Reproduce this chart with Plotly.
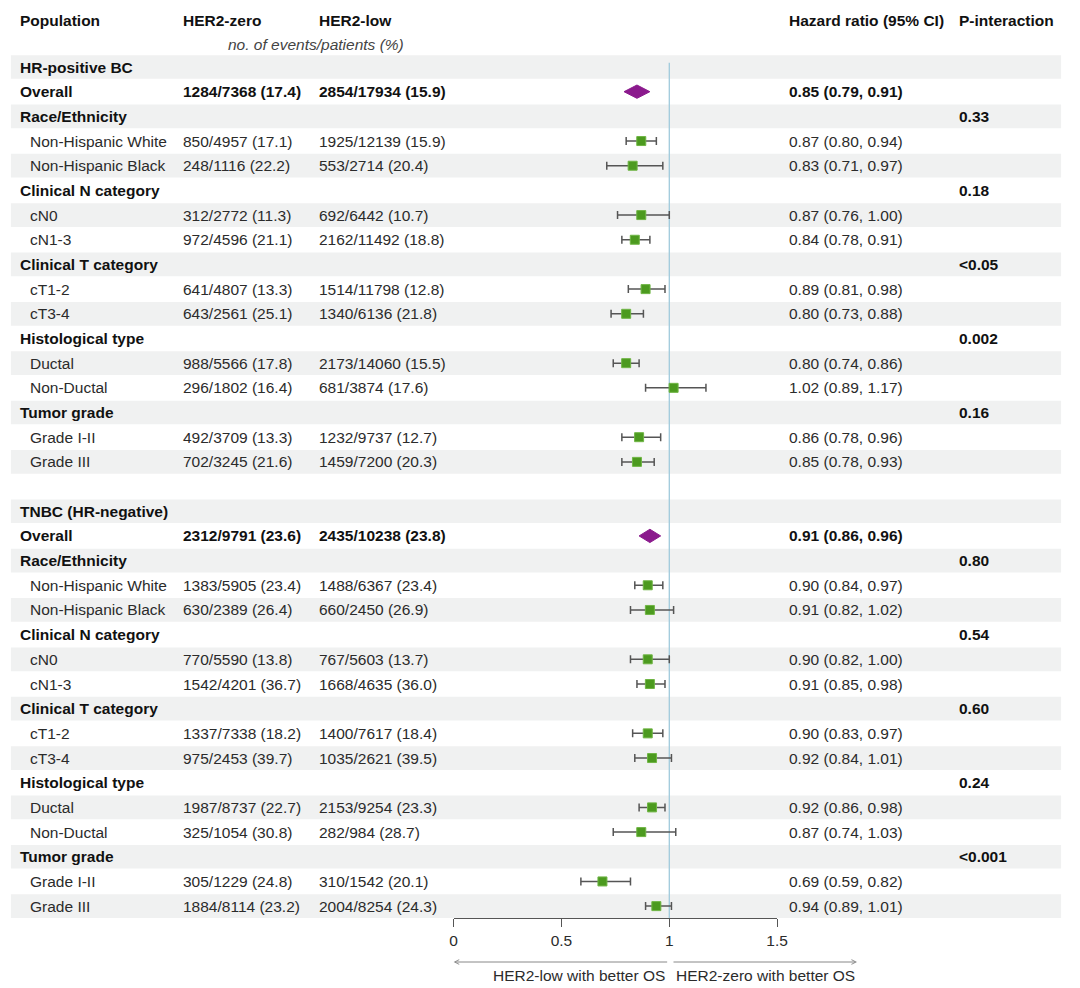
import plotly.graph_objects as go

# ---------------- data ----------------
labels = ["HR-positive BC", "Overall", "Race/Ethnicity", "Non-Hispanic White", "Non-Hispanic Black",
          "Clinical N category", "cN0", "cN1-3", "Clinical T category", "cT1-2", "cT3-4",
          "Histological type", "Ductal", "Non-Ductal", "Tumor grade", "Grade I-II", "Grade III",
          "",
          "TNBC (HR-negative)", "Overall", "Race/Ethnicity", "Non-Hispanic White", "Non-Hispanic Black",
          "Clinical N category", "cN0", "cN1-3", "Clinical T category", "cT1-2", "cT3-4",
          "Histological type", "Ductal", "Non-Ductal", "Tumor grade", "Grade I-II", "Grade III"]

kinds = ["section", "overall", "group", "sub", "sub", "group", "sub", "sub", "group", "sub", "sub",
         "group", "sub", "sub", "group", "sub", "sub",
         "blank",
         "section", "overall", "group", "sub", "sub", "group", "sub", "sub", "group", "sub", "sub",
         "group", "sub", "sub", "group", "sub", "sub"]

her2_zero = ["", "1284/7368 (17.4)", "", "850/4957 (17.1)", "248/1116 (22.2)", "", "312/2772 (11.3)",
             "972/4596 (21.1)", "", "641/4807 (13.3)", "643/2561 (25.1)", "", "988/5566 (17.8)",
             "296/1802 (16.4)", "", "492/3709 (13.3)", "702/3245 (21.6)", "",
             "", "2312/9791 (23.6)", "", "1383/5905 (23.4)", "630/2389 (26.4)", "", "770/5590 (13.8)",
             "1542/4201 (36.7)", "", "1337/7338 (18.2)", "975/2453 (39.7)", "", "1987/8737 (22.7)",
             "325/1054 (30.8)", "", "305/1229 (24.8)", "1884/8114 (23.2)"]

her2_low = ["", "2854/17934 (15.9)", "", "1925/12139 (15.9)", "553/2714 (20.4)", "", "692/6442 (10.7)",
            "2162/11492 (18.8)", "", "1514/11798 (12.8)", "1340/6136 (21.8)", "", "2173/14060 (15.5)",
            "681/3874 (17.6)", "", "1232/9737 (12.7)", "1459/7200 (20.3)", "",
            "", "2435/10238 (23.8)", "", "1488/6367 (23.4)", "660/2450 (26.9)", "", "767/5603 (13.7)",
            "1668/4635 (36.0)", "", "1400/7617 (18.4)", "1035/2621 (39.5)", "", "2153/9254 (23.3)",
            "282/984 (28.7)", "", "310/1542 (20.1)", "2004/8254 (24.3)"]

hr = [None, 0.85, None, 0.87, 0.83, None, 0.87, 0.84, None, 0.89, 0.80, None, 0.80, 1.02, None, 0.86, 0.85,
      None,
      None, 0.91, None, 0.90, 0.91, None, 0.90, 0.91, None, 0.90, 0.92, None, 0.92, 0.87, None, 0.69, 0.94]
ci_lo = [None, 0.79, None, 0.80, 0.71, None, 0.76, 0.78, None, 0.81, 0.73, None, 0.74, 0.89, None, 0.78, 0.78,
         None,
         None, 0.86, None, 0.84, 0.82, None, 0.82, 0.85, None, 0.83, 0.84, None, 0.86, 0.74, None, 0.59, 0.89]
ci_hi = [None, 0.91, None, 0.94, 0.97, None, 1.00, 0.91, None, 0.98, 0.88, None, 0.86, 1.17, None, 0.96, 0.93,
         None,
         None, 0.96, None, 0.97, 1.02, None, 1.00, 0.98, None, 0.97, 1.01, None, 0.98, 1.03, None, 0.82, 1.01]

p_interaction = ["", "", "0.33", "", "", "0.18", "", "", "<0.05", "", "", "0.002", "", "", "0.16", "", "",
                 "",
                 "", "", "0.80", "", "", "0.54", "", "", "0.60", "", "", "0.24", "", "", "<0.001", "", ""]

tick_vals = [0, 0.5, 1, 1.5]
tick_text = ["0", "0.5", "1", "1.5"]

col_headers = ["Population", "HER2-zero", "HER2-low", "Hazard ratio (95% CI)", "P-interaction"]
subheader = "no. of events/patients (%)"
arrow_left_text = "HER2-low with better OS"
arrow_right_text = "HER2-zero with better OS"

# ---------------- layout constants ----------------
W, H = 1080, 988
ROW0, PITCH = 67.0, 24.68
AX_BOTTOM_PX = 918
FONT = "Liberation Sans, Arial, sans-serif"
TXT = "#2b2b2b"
BOLD = "#111111"
FS = 15.5

def px(x):
    return x / W

y_top = -ROW0 / PITCH
y_bot = (AX_BOTTOM_PX - ROW0) / PITCH

fig = go.Figure()

n = len(labels)
rows = list(range(n))

# shaded bands on alternating rows
shapes = []
for i in rows:
    if i % 2 == 0:
        shapes.append(dict(type="rect", xref="paper", yref="y", x0=px(7), x1=px(1072),
                           y0=i - 0.48, y1=i + 0.48, fillcolor="#f0f1f1",
                           line=dict(width=0), layer="below"))
# reference line at HR = 1
shapes.append(dict(type="line", xref="x", yref="y", x0=1, x1=1, y0=-0.17, y1=y_bot,
                   line=dict(color="#9fcadb", width=1.3), layer="below"))

# subgroup squares with CI
sx, sy, sp, sm = [], [], [], []
for i in rows:
    if hr[i] is not None and kinds[i] == "sub":
        sx.append(hr[i]); sy.append(i)
        sp.append(ci_hi[i] - hr[i]); sm.append(hr[i] - ci_lo[i])
fig.add_trace(go.Scatter(
    x=sx, y=sy, mode="markers",
    marker=dict(symbol="square", size=9, color="#4c9a1f", line=dict(color="#6fb544", width=1)),
    error_x=dict(type="data", symmetric=False, array=sp, arrayminus=sm,
                 color="#555555", thickness=1.5, width=4),
    showlegend=False, hoverinfo="skip"))

# overall diamonds
for i in rows:
    if hr[i] is not None and kinds[i] == "overall":
        h = 0.27
        fig.add_trace(go.Scatter(
            x=[ci_lo[i], hr[i], ci_hi[i], hr[i], ci_lo[i]],
            y=[i, i - h, i, i + h, i],
            mode="lines", fill="toself", fillcolor="#8b1a8d",
            line=dict(color="#8b1a8d", width=1), showlegend=False, hoverinfo="skip"))

annotations = []

def add_text(x, y, text, bold=False, italic=False, color=None, anchor="left", size=FS):
    t = text
    if bold:
        t = "<b>" + t + "</b>"
    if italic:
        t = "<i>" + t + "</i>"
    annotations.append(dict(xref="paper", yref="y", x=px(x), y=y, text=t, showarrow=False,
                            xanchor=anchor, yanchor="middle", borderpad=0,
                            font=dict(family=FONT, size=size, color=color or (BOLD if bold else TXT))))

# headers
hdr_x = [15, 180, 318, 795, 967]
for x, t in zip(hdr_x, col_headers):
    add_text(x, -1.9, t, bold=True)
add_text(316, -0.9, subheader, italic=True, color="#444444", anchor="center")

for i in rows:
    k = kinds[i]
    if k == "blank":
        continue
    if k == "sub":
        add_text(25, i, labels[i])
    else:
        add_text(15, i, labels[i], bold=True)
    isb = (k == "overall")
    if her2_zero[i]:
        add_text(180, i, her2_zero[i], bold=isb)
    if her2_low[i]:
        add_text(318, i, her2_low[i], bold=isb)
    if hr[i] is not None:
        add_text(795, i, f"{hr[i]:.2f} ({ci_lo[i]:.2f}, {ci_hi[i]:.2f})", bold=isb)
    if p_interaction[i]:
        add_text(967, i, p_interaction[i], bold=True)

# direction arrows
ay_paper = 1 - 962 / H
annotations.append(dict(xref="paper", yref="paper", x=px(456), y=ay_paper, ax=671 - 456, ay=0,
                        axref="pixel", ayref="pixel", text="", showarrow=True,
                        arrowhead=5, arrowsize=0.9, arrowwidth=1, arrowcolor="#888888"))
annotations.append(dict(xref="paper", yref="paper", x=px(865), y=ay_paper, ax=-(865 - 680), ay=0,
                        axref="pixel", ayref="pixel", text="", showarrow=True,
                        arrowhead=5, arrowsize=0.9, arrowwidth=1, arrowcolor="#888888"))
ty = 1 - 975 / H
annotations.append(dict(xref="paper", yref="paper", x=px(671), y=ty, text=arrow_left_text,
                        showarrow=False, xanchor="right", yanchor="middle", borderpad=0,
                        font=dict(family=FONT, size=FS, color=TXT)))
annotations.append(dict(xref="paper", yref="paper", x=px(680), y=ty, text=arrow_right_text,
                        showarrow=False, xanchor="left", yanchor="middle", borderpad=0,
                        font=dict(family=FONT, size=FS, color=TXT)))

fig.update_layout(
    width=W, height=H,
    margin=dict(l=0, r=0, t=0, b=0),
    paper_bgcolor="white", plot_bgcolor="rgba(0,0,0,0)",
    shapes=shapes, annotations=annotations,
    xaxis=dict(domain=[px(456), px(784)], range=[0, 1.5], tickvals=tick_vals, ticktext=tick_text,
               showgrid=False, zeroline=False, showline=True, linecolor="#555555", linewidth=1,
               ticks="outside", ticklen=8, tickcolor="#555555", tickwidth=1,
               tickfont=dict(family=FONT, size=FS, color=TXT), fixedrange=True),
    yaxis=dict(domain=[(H - AX_BOTTOM_PX) / H, 1], range=[y_bot, y_top], visible=False,
               fixedrange=True),
    showlegend=False,
)

fig.write_html("out.html", config={"displayModeBar": False},
               post_script="document.body.style.margin='0';document.body.style.overflow='hidden';")
